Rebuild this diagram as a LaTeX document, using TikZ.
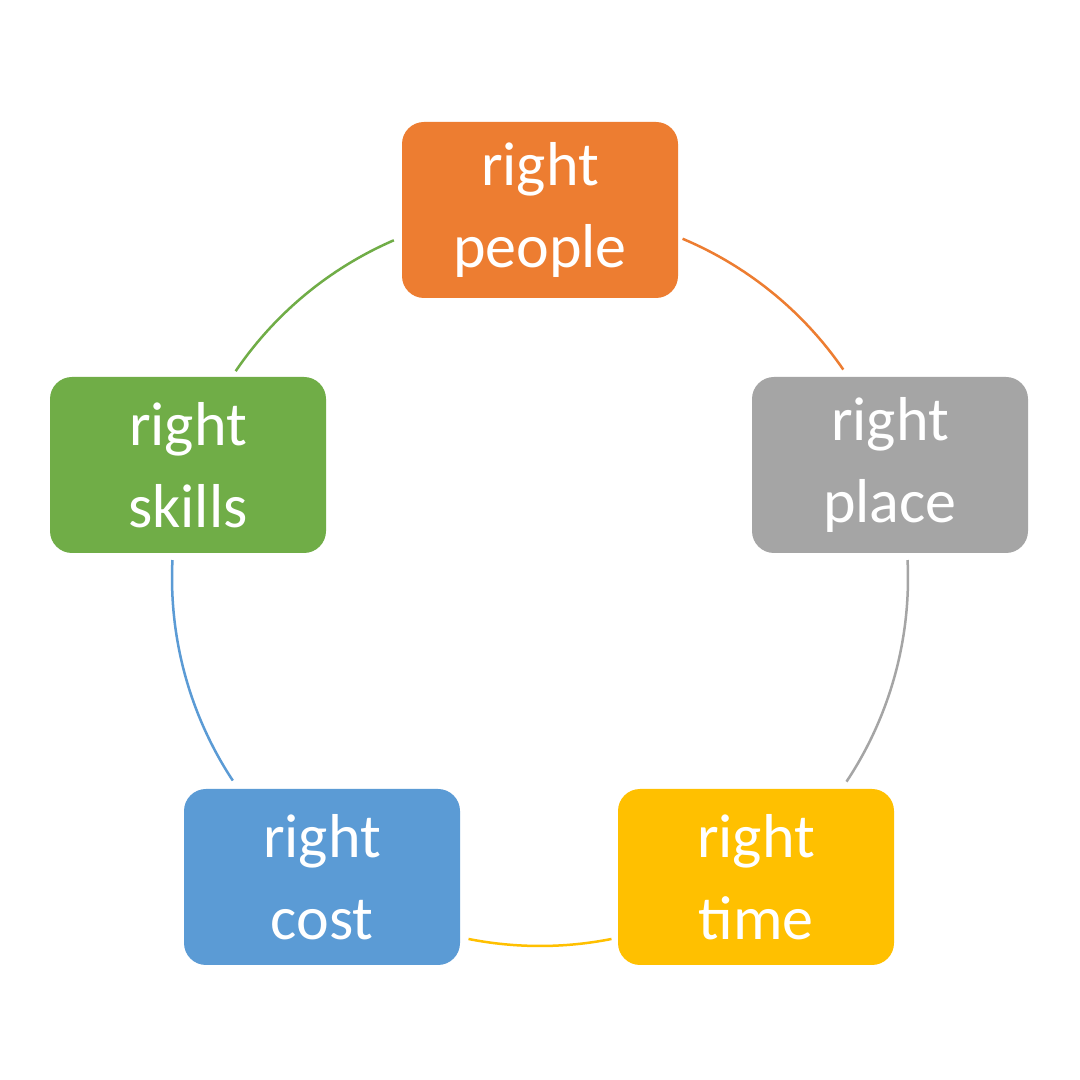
\documentclass[tikz,border=0pt]{standalone}
\usepackage{fontspec}
\setmainfont{Carlito}
\definecolor{corange}{HTML}{ED7D31}
\definecolor{cgray}{HTML}{A5A5A5}
\definecolor{cyellow}{HTML}{FFC000}
\definecolor{cblue}{HTML}{5B9BD5}
\definecolor{cgreen}{HTML}{70AD47}
\begin{document}
\begin{tikzpicture}[x=1pt,y=1pt,
  box/.style={rounded corners=22pt,minimum width=276pt,minimum height=176pt,inner sep=0pt,text=white,align=center,font=\fontsize{62}{82}\selectfont},
  ring/.style={line width=2.5pt}]
\useasboundingbox (0,0) rectangle (1080,1080);
\fill[white] (0,0) rectangle (1080,1080);
\coordinate (c) at (540,502);
\def\R{368}
\draw[ring,corange] (c) ++(67.2:\R) arc (67.2:34.5:\R);
\draw[ring,cgray] (c) ++(2.8:\R) arc (2.8:-33.6:\R);
\draw[ring,cyellow] (c) ++(-78.8:\R) arc (-78.8:-101.2:\R);
\draw[ring,cblue] (c) ++(-146.6:\R) arc (-146.6:-182.8:\R);
\draw[ring,cgreen] (c) ++(145.8:\R) arc (145.8:113.4:\R);
\node[box,fill=corange] (people) at (540,870) {right\\people};
\node[box,fill=cgray] (place) at (890,615) {right\\place};
\node[box,fill=cyellow] (time) at (756,203) {right\\time};
\node[box,fill=cblue] (cost) at (322,203) {right\\cost};
\node[box,fill=cgreen] (skills) at (188,615) {right\\skills};
\end{tikzpicture}
\end{document}
